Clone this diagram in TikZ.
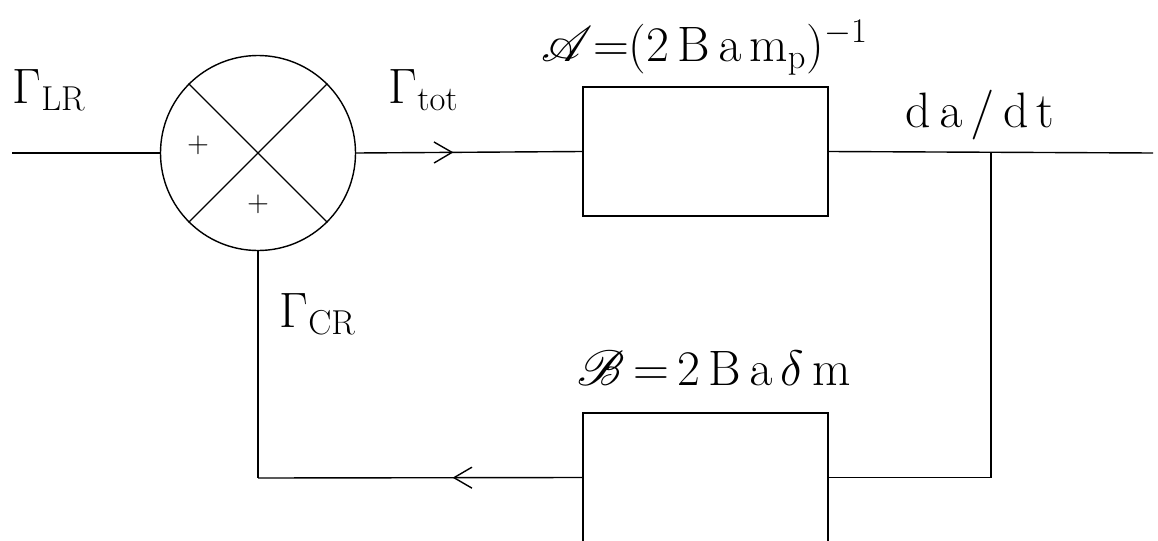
\documentclass[tikz,border=0pt]{standalone}
\usepackage{mathrsfs}
\usetikzlibrary{arrows.meta,decorations.markings}
\begin{document}
\begin{tikzpicture}[x=0.5pt,y=-0.5pt,line width=0.7pt,
    blk/.style={rectangle,draw,minimum width=122.5pt,minimum height=64.5pt,inner sep=0pt},
    lbl/.style={inner sep=0pt,anchor=base west,font=\fontsize{26}{30}\selectfont},
    sgn/.style={inner sep=0pt,font=\fontsize{14}{16}\selectfont},
    flow/.style={decoration={markings,mark=at position #1 with {\arrow{Straight Barb[length=9pt,width=10.5pt,line width=0.7pt]}}},postaction={decorate}}]
    \useasboundingbox (0,0) rectangle (1158,541);
    \clip (0,0) rectangle (1158,541);

    \node[circle,draw,minimum size=97.5pt,inner sep=0pt] (sum) at (258,153) {};
    \draw (sum.45)--(sum.225);
    \draw (sum.135)--(sum.-45);
    \node[sgn] (p1) at (198,145) {$+$};
    \node[sgn] (p2) at (258,204) {$+$};

    \node[blk] (blkA) at (705.5,151.5) {};
    \node[blk] (blkB) at (705.5,477.5) {};

    \coordinate (in) at (12,153);
    \coordinate (out) at (1153,153);
    \coordinate (tap) at (991,153);
    \coordinate (corner) at (258,478);

    \draw (in)--(sum.west);
    \draw[flow=0.43] (sum.east)--(blkA.west);
    \draw (blkA.east)--(out);
    \draw (tap)|-(blkB.east);
    \draw[flow=0.4] (blkB.west)--(corner);
    \draw (corner)--(sum.south);

    \node[lbl,font=\fontsize{27}{32}\selectfont] (gLR) at (12,103) {$\Gamma_{\mathrm{LR}}$};
    \node[lbl,font=\fontsize{27}{32}\selectfont] (gtot) at (388,103) {$\Gamma_{\mathrm{tot}}$};
    \node[lbl,font=\fontsize{27}{32}\selectfont] (gCR) at (279,327) {$\Gamma_{\mathrm{CR}}$};
    \node[lbl] (lA) at (541,61) {$\mathscr{A}{=}(2\,\mathrm{B}\,\mathrm{a}\,\mathrm{m}_{\mathrm{p}})^{-1}$};
    \node[lbl] (lB) at (577,385) {$\mathscr{B}\,{=}\,2\,\mathrm{B}\,\mathrm{a}\,\delta\,\mathrm{m}$};
    \node[lbl] (rate) at (905,127) {$\mathrm{d}\,\mathrm{a}\,/\,\mathrm{d}\,\mathrm{t}$};
\end{tikzpicture}
\end{document}
